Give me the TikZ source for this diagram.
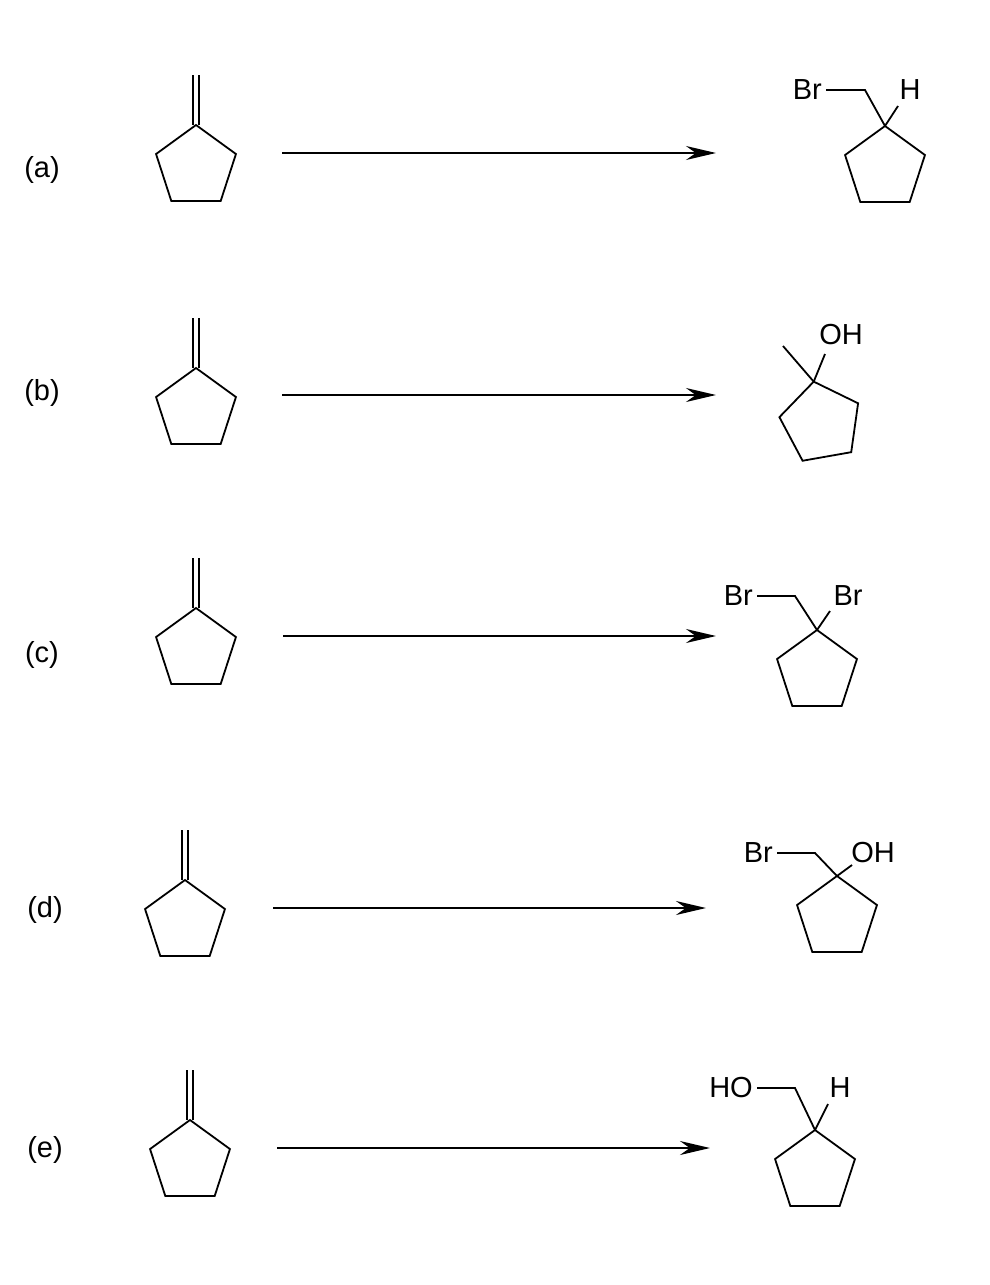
\documentclass[tikz,border=0pt]{standalone}
\usepackage{fontspec}
\setmainfont{Liberation Sans}
\usetikzlibrary{calc,arrows.meta}
\newcommand{\pentring}[2]{\draw[bond] ($(#1)+({-90+#2}:42)$) -- ($(#1)+({-18+#2}:42)$) -- ($(#1)+({54+#2}:42)$) -- ($(#1)+({126+#2}:42)$) -- ($(#1)+({198+#2}:42)$) -- cycle;}
\newcommand{\reactant}[3]{%
  \coordinate (#1c) at (#2,#3);
  \pentring{#1c}{0}
  \coordinate (#1t) at (#2,#3-42);
  \draw[bond] ($(#1t)+(-3,0)$) -- ++(0,-50);
  \draw[bond] ($(#1t)+(3,0)$) -- ++(0,-50);}
\begin{document}
\begin{tikzpicture}[x=1pt,y=-1pt,
  bond/.style={line width=1.8pt,line join=miter},
  rxn/.style={line width=1.8pt,-{Stealth[length=30,width=14]}},
  lbl/.style={font=\fontsize{29}{31}\selectfont,inner sep=1pt},
  atom/.style={font=\fontsize{29}{31}\selectfont,inner sep=4pt}]
\useasboundingbox (0,0) rectangle (989,1285);
% labels
\node[lbl] (la) at (42,170) {(a)};
\node[lbl] (lb) at (42,393) {(b)};
\node[lbl] (lc) at (42,655) {(c)};
\node[lbl] (ld) at (45,910) {(d)};
\node[lbl] (le) at (45,1150) {(e)};
% reactants
\reactant{ra}{196}{167}
\reactant{rb}{196}{410}
\reactant{rc}{196}{650}
\reactant{rd}{185}{922}
\reactant{re}{190}{1162}
% arrows
\coordinate (a1) at (282,153); \coordinate (a2) at (716,153);
\draw[rxn] (a1) -- (a2);
\coordinate (b1) at (282,395); \coordinate (b2) at (716,395);
\draw[rxn] (b1) -- (b2);
\coordinate (c1) at (283,636); \coordinate (c2) at (716,636);
\draw[rxn] (c1) -- (c2);
\coordinate (d1) at (273,908); \coordinate (d2) at (706,908);
\draw[rxn] (d1) -- (d2);
\coordinate (e1) at (277,1148); \coordinate (e2) at (710,1148);
\draw[rxn] (e1) -- (e2);
% product a
\coordinate (pac) at (885,168); \pentring{pac}{0}
\coordinate (paC) at (885,126);
\node[atom,anchor=east] (paBr) at (826,90) {Br};
\node[atom] (paH) at (910,90) {H};
\draw[bond] (paC) -- (865,90) -- (paBr.east);
\draw[bond] (paC) -- (898,106);
% product b
\coordinate (pbc) at (821,423); \pentring{pbc}{-10}
\coordinate (pbC) at ($(pbc)+(-100:42)$);
\node[atom] (pbOH) at (841,335) {OH};
\draw[bond] (pbC) -- (783,346);
\draw[bond] (pbC) -- (825,354);
% product c
\coordinate (pcc) at (817,672); \pentring{pcc}{0}
\coordinate (pcC) at (817,630);
\node[atom,anchor=east] (pcBr1) at (757,596) {Br};
\node[atom] (pcBr2) at (848,596) {Br};
\draw[bond] (pcC) -- (795,596) -- (pcBr1.east);
\draw[bond] (pcC) -- (830,611);
% product d
\coordinate (pdc) at (837,918); \pentring{pdc}{0}
\coordinate (pdC) at (837,876);
\node[atom,anchor=east] (pdBr) at (777,853) {Br};
\node[atom] (pdOH) at (873,853) {OH};
\draw[bond] (pdC) -- (815,853) -- (pdBr.east);
\draw[bond] (pdC) -- (852,865);
% product e
\coordinate (pec) at (815,1172); \pentring{pec}{0}
\coordinate (peC) at (815,1130);
\node[atom,anchor=east] (peHO) at (757,1088) {HO};
\node[atom] (peH) at (840,1088) {H};
\draw[bond] (peC) -- (795,1088) -- (peHO.east);
\draw[bond] (peC) -- (828,1104);
\end{tikzpicture}
\end{document}
